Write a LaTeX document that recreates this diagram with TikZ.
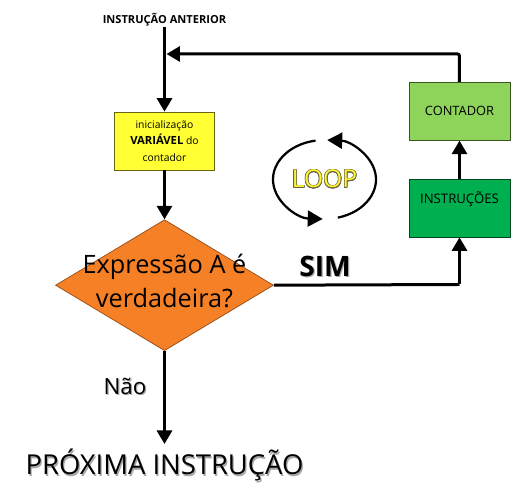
\documentclass[tikz,border=0pt]{standalone}
\usepackage{fontspec}
\setmainfont{Open Sans}
\usepackage[copies]{contour}
\usepackage{tikz}
\usetikzlibrary{positioning,arrows.meta,shapes.geometric}

\definecolor{initfill}{HTML}{FFFF33}
\definecolor{decisionfill}{HTML}{F68026}
\definecolor{counterfill}{HTML}{8FD45A}
\definecolor{bodyfill}{HTML}{00B050}
\contourlength{0.35pt}
\newcommand{\softshade}[1]{\rlap{\kern0.7pt\raisebox{-0.7pt}{\textcolor{black!35}{#1}}}#1}

\begin{document}
\begin{tikzpicture}[
    every node/.style={align=center, inner sep=0pt},
    stepbox/.style={draw=black!60!#1, fill=#1, rectangle, minimum width=2cm, minimum height=1.16cm},
    flow/.style={-{Triangle[length=0.27cm,width=0.3cm]}, line width=0.06cm},
    turn/.style={-{Triangle[length=0.3cm,width=0.32cm]}, line width=0.045cm},
    >=Stealth
]
\useasboundingbox (0,0) rectangle (10.58,-9.94);

% Start of the block
\node[font=\fontsize{6.3}{7.5}\selectfont\bfseries] (previous) at (3.29,-0.40) {INSTRUÇÃO ANTERIOR};

% Initialisation
\node[stepbox=initfill, font=\fontsize{5.9}{9.6}\selectfont] (init) at (3.29,-2.82)
{inicialização\\{\fontsize{6.4}{9.6}\selectfont\textbf{VARIÁVEL}} do\\contador};

% Decision
\node[below=0.98cm of init, draw=black!40!decisionfill, fill=decisionfill, diamond,
    aspect=1.664, minimum width=4.36cm, minimum height=2.62cm] (decision) {};
\node[font=\fontsize{14.4}{19.4}\selectfont] (question) at ([yshift=0.09cm]decision)
{Expressão A é\\verdadeira?};

% Loop body
\node[stepbox=bodyfill, minimum width=2.02cm, font=\fontsize{7.5}{9}\selectfont] (body) at (9.19,-4.16)
{\raisebox{0.08cm}[0pt][0pt]{INSTRUÇÕES}};
\node[above=0.76cm of body, stepbox=counterfill, minimum width=2.02cm, font=\fontsize{7.3}{9}\selectfont] (counter) {CONTADOR};

% Next step
\node[font=\fontsize{15.6}{18}\selectfont] (next) at (3.29,-9.32) {\softshade{PRÓXIMA INSTRUÇÃO}};
\coordinate (merge) at (3.33,-1.08);
\coordinate (exit) at (3.29,-8.88);
\coordinate (turnright) at (9.19,-5.69);

% Arrows
\draw[flow] (previous.south) -- (init);
\draw[flow] (init) -- (decision);
\draw[flow] (decision.south) -- (exit);
\draw[line width=0.06cm, line join=round] (decision.east) -- (turnright);
\draw[flow] (turnright) -- (body);
\draw[flow] (body) -- (counter);
\draw[flow, rounded corners=0.04cm] (counter.north) |- (merge);

% Side labels
\node[font=\fontsize{16}{18}\selectfont\bfseries] (yes) at (6.5,-5.34) {\softshade{SIM}};
\node[font=\fontsize{12.7}{15}\selectfont] (no) at (2.5,-7.74) {\softshade{Não}};

% Loop
\node[font=\fontsize{14}{16}\selectfont] (loop) at (6.49,-3.59)
{\contour{black!70!yellow}{\textcolor{yellow!80!white}{LOOP}}};
\draw[turn] (loop.center) ++(100:1.03cm and 0.79cm) arc[start angle=100, end angle=268, x radius=1.03cm, y radius=0.79cm];
\draw[turn] (loop.center) ++(285:1.03cm and 0.79cm) arc[start angle=285, end angle=447, x radius=1.03cm, y radius=0.79cm];

\end{tikzpicture}
\end{document}
